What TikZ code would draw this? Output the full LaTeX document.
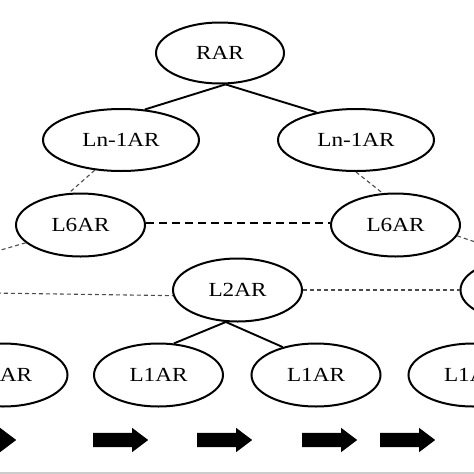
\documentclass[tikz,border=0pt]{standalone}
\usepackage{fontspec}
\setmainfont{Liberation Serif}[FakeStretch=1.16]
\usetikzlibrary{shapes.geometric,shapes.arrows}

\begin{document}
\begin{tikzpicture}[x=1pt,y=-1pt,font=\fontsize{20pt}{20pt}\selectfont]
\tikzstyle{level}=[shape=ellipse,draw,line width=2pt,inner sep=0pt,minimum width=129pt,minimum height=63pt];
\tikzstyle{tree}=[line width=1.9pt]
\tikzstyle{weak}=[dashed,dash pattern=on 4pt off 3pt,line width=1.1pt,color=black!70]
\tikzstyle{peer}=[dashed,dash pattern=on 8pt off 5pt,line width=1.8pt]
\tikzstyle{flow}=[shape=single arrow,fill=black,anchor=west,inner xsep=0pt,inner ysep=7pt,minimum height=55pt,single arrow head extend=5pt,single arrow tip angle=74]

\useasboundingbox (0,0) rectangle (474,474);
\clip (0,0) rectangle (474,474);

\node[level,minimum width=128pt,minimum height=61pt] (rar) at (220,53) {RAR};

\node[level,minimum width=156pt,minimum height=62pt] (lnLeft) at (121,140) {Ln-1AR};
\node[level,minimum width=156pt,minimum height=62pt] (lnRight) at (356,140) {Ln-1AR};

\node[level] (l6Left) at (80.5,225) {L6AR};
\node[level] (l6Right) at (395.5,225) {L6AR};

\node[level] (l2) at (237.5,290) {L2AR};
\node[level] (l2Right) at (525,290) {L2AR}; % rechts abgeschnitten

\node[level] (l1Left) at (3,375) {L1AR};
\node[level] (l1A) at (158.5,375) {L1AR};
\node[level] (l1B) at (316,375) {L1AR};
\node[level] (l1Right) at (473,375) {L1AR};

\coordinate (offLeft) at (-20,256);
\coordinate (offRight) at (490,247);
\coordinate (offL2) at (-10,293);

\draw[tree] (rar.-80) -- (lnLeft.52);
\draw[tree] (rar.-80) -- (lnRight.145);
\draw[tree] (l2.-110) -- (l1A.64);
\draw[tree] (l2.-110) -- (l1B.140);

\draw[weak] (lnLeft.-131) -- (l6Left.110);
\draw[weak] (lnRight.-90) -- (l6Right.112);
\draw[weak] (l6Left.-162) -- (offLeft);
\draw[weak] (l6Right.-10) -- (offRight);
\draw[weak] (offL2) -- (l2.185);
\draw[weak] (l2.east) -- (l2Right.west);

\draw[peer] (l6Left.2) -- (l6Right.178);

\node[flow] (pfeil1) at (-39,440) {};
\node[flow] (pfeil2) at (93,440) {};
\node[flow] (pfeil3) at (197,440) {};
\node[flow] (pfeil4) at (302,440) {};
\node[flow] (pfeil5) at (380,440) {};

\fill[black!20] (0,472) rectangle (474,474);
\end{tikzpicture}
\end{document}
